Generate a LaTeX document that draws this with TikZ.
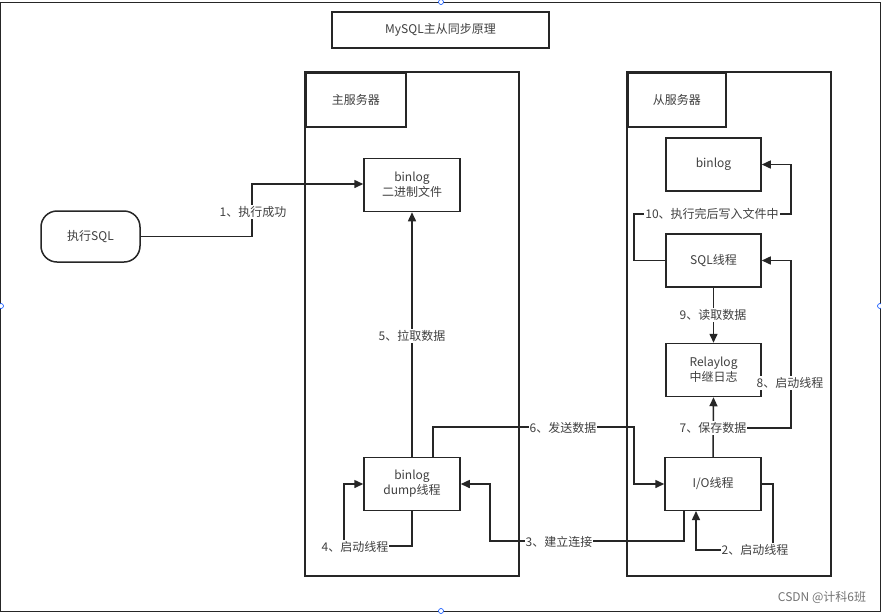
\documentclass[tikz,border=0pt]{standalone}
\usepackage{fontspec}
\setmainfont{Noto Sans CJK SC}
\usetikzlibrary{arrows.meta}
\begin{document}
\begin{tikzpicture}[x=1pt,y=-1pt,
  box/.style={draw=black!85,line width=1.5pt,minimum width=96pt,minimum height=53pt,align=center,font=\fontsize{12}{15}\selectfont,text=black!75,inner sep=0pt},
  frame/.style={draw=black!85,line width=1.5pt},
  con/.style={draw=black!85,line width=1.5pt,-{Triangle[length=9pt,width=8pt]}},
  lbl/.style={fill=white,inner sep=1pt,font=\fontsize{12}{15}\selectfont,text=black!75},
  handle/.style={circle,draw=blue!70!cyan,fill=white,minimum size=5pt,inner sep=0pt,line width=0.6pt}]
\useasboundingbox (0,0) rectangle (881,614);
\fill[white] (0,0) rectangle (881,614);
\draw[black!85,line width=0.8pt] (0.5,2) rectangle (880,611);
\node[handle] (h1) at (441,2) {};
\node[handle] (h2) at (441,611) {};
\node[handle] (h3) at (1,306) {};
\node[handle] (h4) at (880,306) {};
\node[box,minimum width=217pt,minimum height=36pt] (title) at (440.5,30) {MySQL主从同步原理};
\draw[frame] (305,72) rectangle (519,576);
\node[box,minimum width=100pt,minimum height=54pt,anchor=north west] (mtab) at (305,72) {主服务器};
\draw[frame] (627,72) rectangle (831,576);
\node[box,minimum width=98pt,minimum height=54pt,anchor=north west] (stab) at (627,72) {从服务器};
\node[box,rounded corners=16pt,minimum width=99pt,minimum height=51pt] (sql) at (90.5,236.5) {执行SQL};
\node[box] (mbin) at (412,185) {binlog\\二进制文件};
\node[box] (dump) at (412,484) {binlog\\dump线程};
\node[box,minimum width=95pt] (sbin) at (713.5,164.5) {binlog};
\node[box,minimum width=95pt] (sqlt) at (713.5,260.5) {SQL线程};
\node[box,minimum width=95pt] (relay) at (713.5,370) {Relaylog\\中继日志};
\node[box,minimum width=96pt] (io) at (713,484) {I/O线程};
% 1
\draw[con] (sql.east) -- (252,236.5) -- (252,184) -- (mbin.west |- 0,184);
\node[lbl] (l1) at (253,212) {1、执行成功};
% 5
\draw[con] (dump.north) -- (mbin.south);
\node[lbl] (l5) at (412,336) {5、拉取数据};
% 6
\draw[con] (433,457) -- (433,427) -- (634,427) -- (634,484) -- (io.west);
\node[lbl] (l6) at (563,428) {6、发送数据};
% 4
\draw[con] (dump.south) -- (412,546) -- (344,546) -- (344,484) -- (dump.west);
\node[lbl] (l4) at (355,547) {4、启动线程};
% 3
\draw[con] (684,511) -- (684,541) -- (490,541) -- (490,484) -- (dump.east);
\node[lbl] (l3) at (559,542) {3、建立连接};
% 2
\draw[con] (io.east) -- (773,484) -- (773,550) -- (696,550) -- (696,511);
\node[lbl] (l2) at (755,550) {2、启动线程};
% 7
\draw[con] (io.north -| 713,0) -- (relay.south);
\coordinate (b8) at (713,428);
\draw[con] (b8) -- (791,428) -- (791,260.5) -- (sqlt.east);
\node[lbl] (l7) at (713,428) {7、保存数据};
\node[lbl] (l8) at (790,383) {8、启动线程};
% 9
\draw[con] (sqlt.south) -- (relay.north);
\node[lbl] (l9) at (713,315) {9、读取数据};
% 10
\draw[con] (sqlt.west) -- (634,260.5) -- (634,214) -- (791,214) -- (791,164.5) -- (sbin.east);
\node[lbl] (l10) at (712,214) {10、执行完后写入文件中};
\node[font=\fontsize{12}{14}\selectfont,text=black!55,inner sep=0pt] (wm) at (822,597) {CSDN @计科6班};
\end{tikzpicture}
\end{document}
